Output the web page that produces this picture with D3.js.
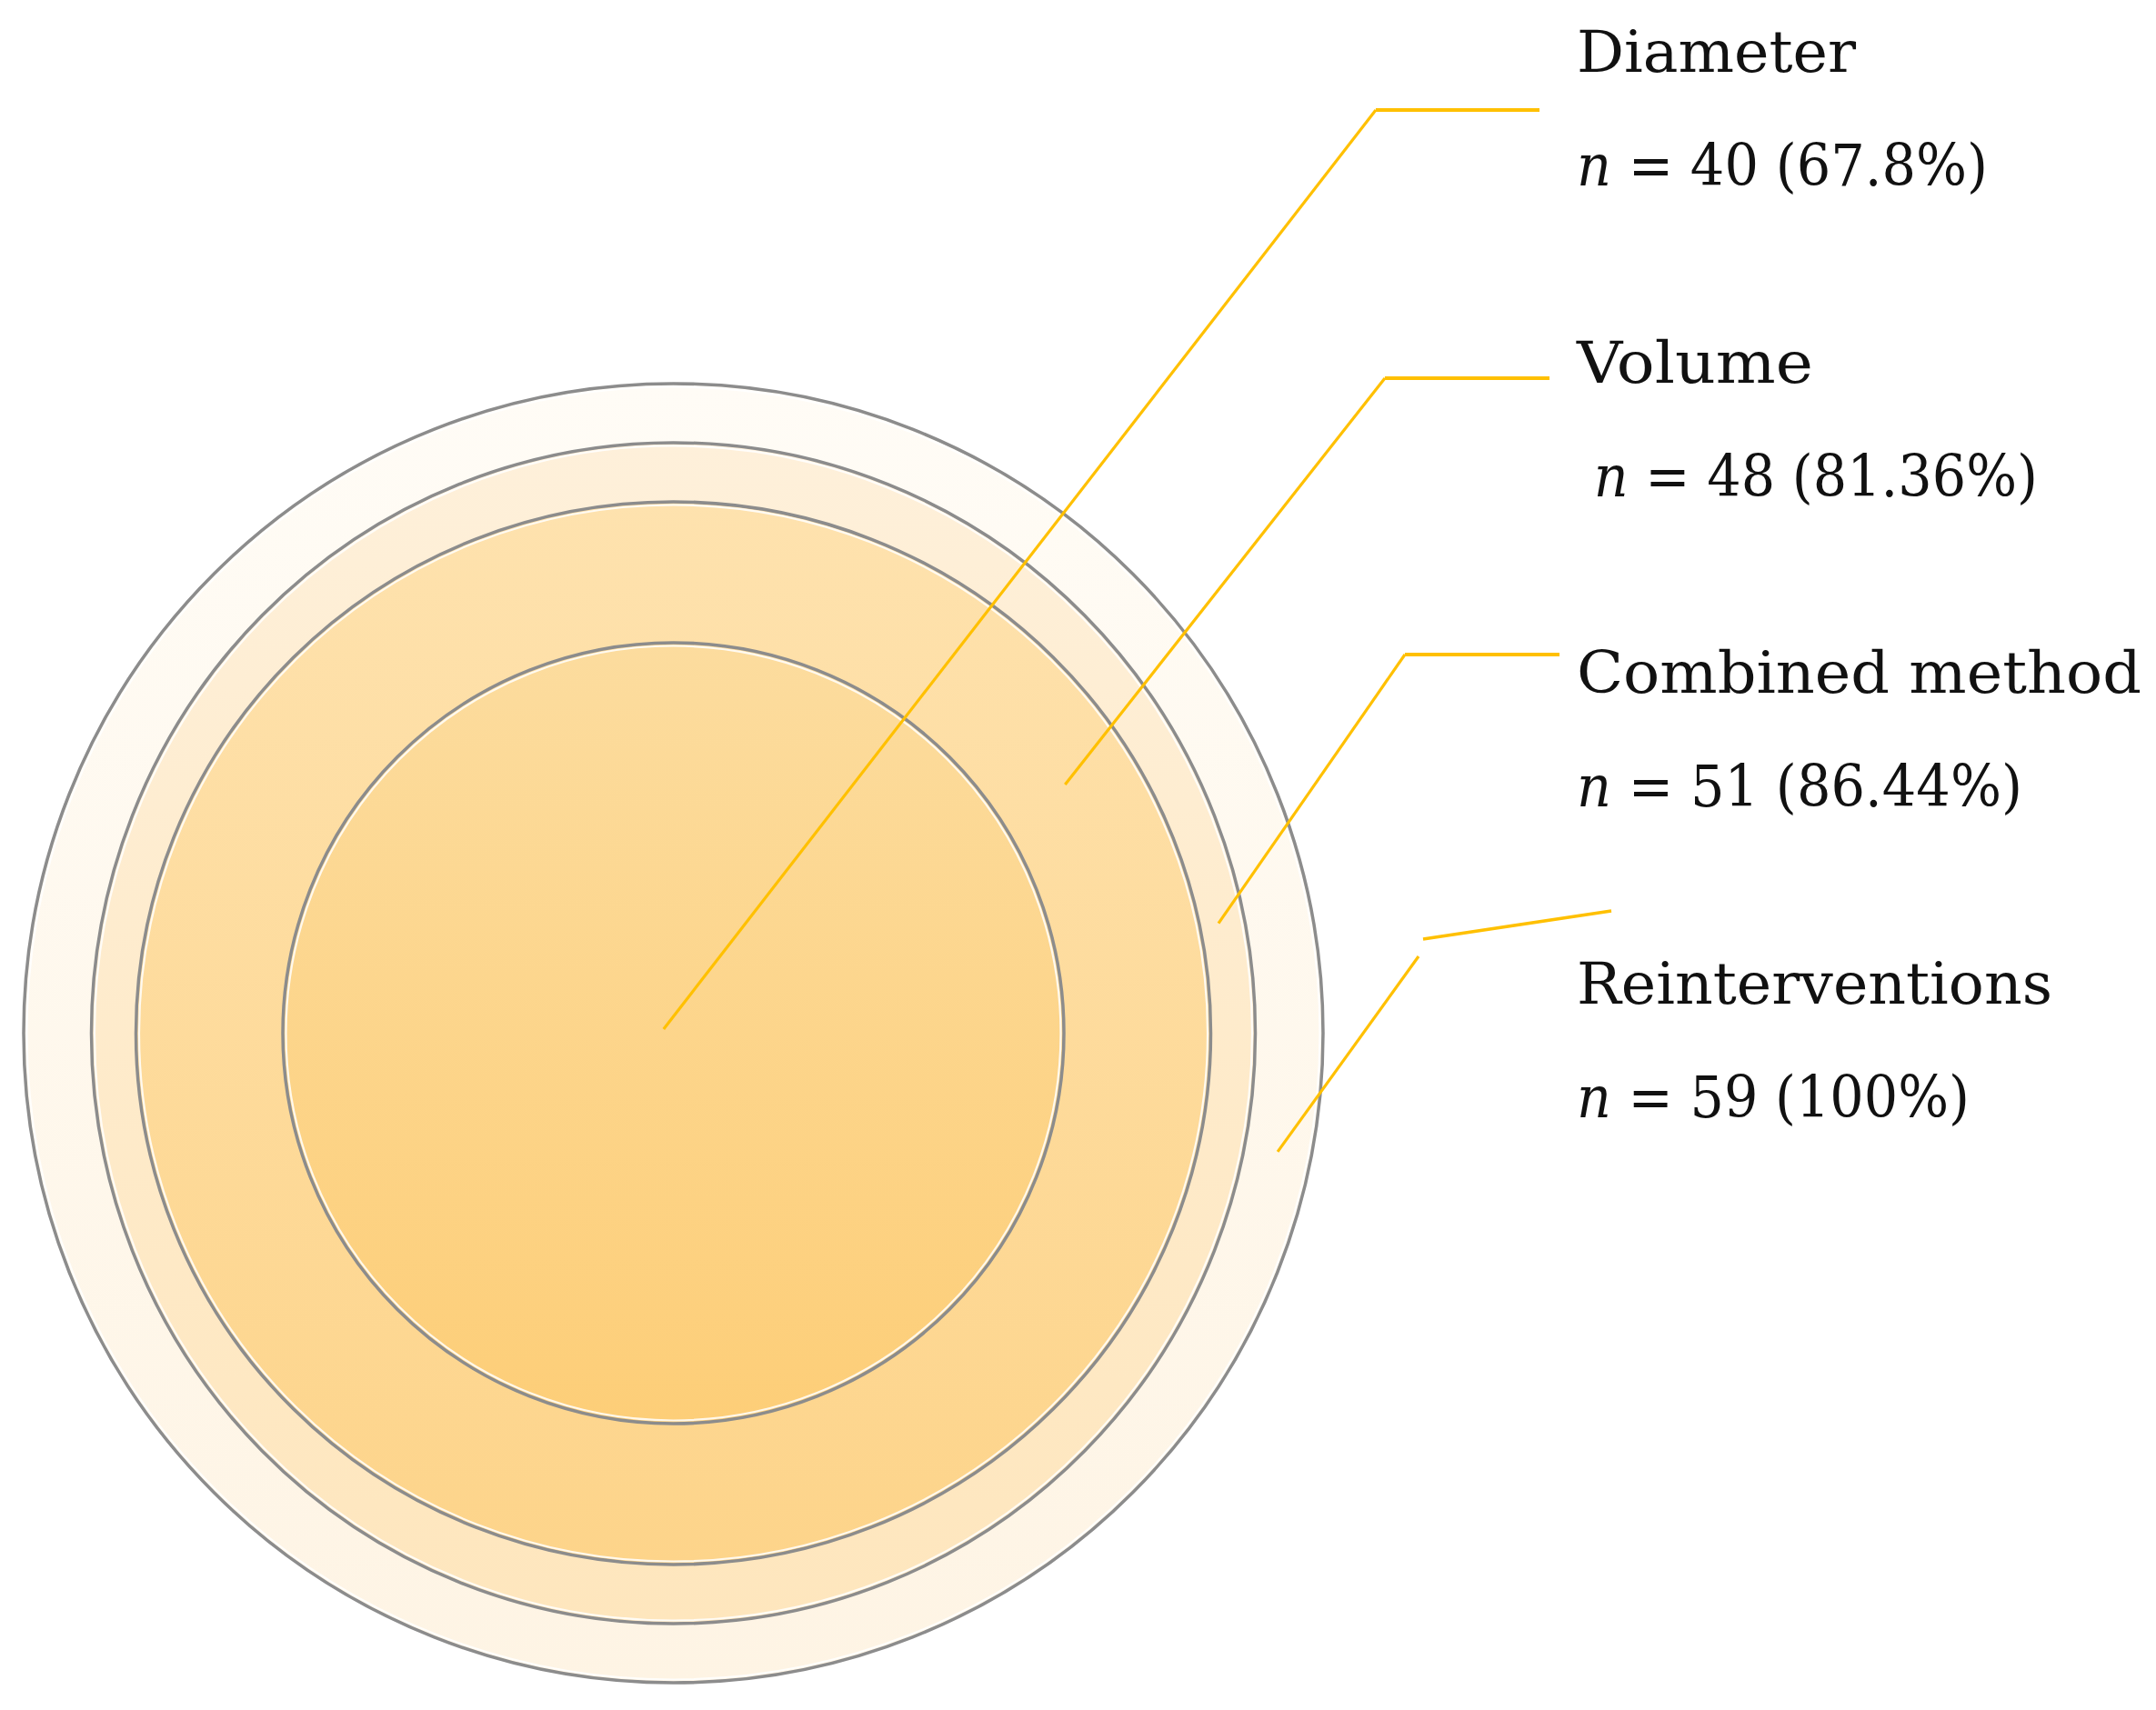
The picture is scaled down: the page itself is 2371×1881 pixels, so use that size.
<!DOCTYPE html>
<html>
<head>
<meta charset="utf-8">
<script src="https://cdn.jsdelivr.net/npm/d3@7"></script>
<style>
  html, body { margin: 0; padding: 0; background: #ffffff; }
  svg { display: block; }
  text { white-space: pre; }
</style>
</head>
<body>
<svg id="chart" width="2371" height="1881"></svg>
<script>
// ---- Data ----
const categories = ["Diameter", "Volume", "Combined method", "Reinterventions"];
const counts = [40, 48, 51, 59];
const percents = ["67.8%", "81.36%", "86.44%", "100%"];
const valuePrefix = ["", "\u00A0", "", ""];

// ---- Layout ----
const W = 2371, H = 1881;
const cx = 740.5, cy = 1136.5;
const svg = d3.select("#chart");

// radius scales (data -> pixels); outer ellipses are very slightly non-circular in the reference
const rxScale = d3.scaleLinear().domain(counts).range([429.5, 591, 640, 714.5]);
const ryScale = d3.scaleLinear().domain(counts).range([429.5, 584.5, 649.5, 714.5]);

// gradient stops per circle (top -> bottom)
const gradTop = ["#FCDC9E", "#FEE2AE", "#FEF0DA", "#FFFCF6"];
const gradBot = ["#FDCE78", "#FDD48A", "#FEE6BD", "#FEF4E4"];

const defs = svg.append("defs");
counts.forEach((c, i) => {
  const g = defs.append("linearGradient")
    .attr("id", "g" + i).attr("x1", 0).attr("y1", 0).attr("x2", 0).attr("y2", 1);
  g.append("stop").attr("offset", "0%").attr("stop-color", gradTop[i]);
  g.append("stop").attr("offset", "100%").attr("stop-color", gradBot[i]);
});

// draw largest first
const order = d3.range(counts.length).reverse();
const circles = svg.append("g");
order.forEach(i => {
  const rx = rxScale(counts[i]), ry = ryScale(counts[i]);
  circles.append("ellipse")
    .attr("cx", cx).attr("cy", cy).attr("rx", rx).attr("ry", ry)
    .attr("fill", `url(#g${i})`)
    .attr("stroke", "#8c8c8c").attr("stroke-width", 3.5);
  circles.append("ellipse")
    .attr("cx", cx).attr("cy", cy).attr("rx", rx - 3.5).attr("ry", ry - 3.5)
    .attr("fill", "none")
    .attr("stroke", "#ffffff").attr("stroke-width", 2.2).attr("stroke-opacity", 0.85);
});

// ---- Leader lines ----
// start points: inside each ring (or near the centre for the innermost) at a given angle
const ringInner = [0, rxScale(counts[0]), rxScale(counts[1]), rxScale(counts[2])];
const startAngle = [-157, -32.4, -11.4, 11.1];
const startFrac = [0.027, 0.5, 0.42, 0.5];
const elbows = [[1513, 121], [1523, 416], [1545, 720], [1560, 1052]];
const ends = [[1693, 121], [1704, 416], [1715, 720], null];
const leaderColor = "#FFC000";
const leaders = svg.append("g");
counts.forEach((c, i) => {
  const r0 = ringInner[i], r1 = rxScale(c);
  const rr = r0 + (r1 - r0) * startFrac[i];
  const a = startAngle[i] * Math.PI / 180;
  const sx = cx + rr * Math.cos(a), sy = cy + rr * Math.sin(a);
  leaders.append("line")
    .attr("x1", sx).attr("y1", sy).attr("x2", elbows[i][0]).attr("y2", elbows[i][1])
    .attr("stroke", leaderColor).attr("stroke-width", 3.2);
  if (ends[i]) {
    leaders.append("line")
      .attr("x1", elbows[i][0]).attr("y1", elbows[i][1]).attr("x2", ends[i][0]).attr("y2", ends[i][1])
      .attr("stroke", leaderColor).attr("stroke-width", 4);
  }
});
// the detached short segment above "Reinterventions"
leaders.append("line")
  .attr("x1", 1565).attr("y1", 1033).attr("x2", 1772).attr("y2", 1002)
  .attr("stroke", leaderColor).attr("stroke-width", 3.6);

// ---- Labels ----
const labelX = 1734;
const yName = d3.scalePoint().domain(categories).range([79, 1104]);
const valueGap = 125;
const nameWidth = [307, 260, 621, 523];
const valueWidth = [452, 507, 490, 432];
const font = "'DejaVu Serif', 'Liberation Serif', serif";
const fs = 64;
const labels = svg.append("g").attr("font-family", font).attr("font-size", fs).attr("fill", "#111");
categories.forEach((cat, i) => {
  labels.append("text").attr("x", labelX).attr("y", yName(cat))
    .attr("textLength", nameWidth[i]).attr("lengthAdjust", "spacingAndGlyphs")
    .text(cat);
  const t = labels.append("text").attr("x", labelX).attr("y", yName(cat) + valueGap)
    .attr("textLength", valueWidth[i]).attr("lengthAdjust", "spacingAndGlyphs");
  if (valuePrefix[i]) t.append("tspan").text(valuePrefix[i]);
  t.append("tspan").attr("font-style", "italic").text("n");
  t.append("tspan").text(` = ${counts[i]} (${percents[i]})`);
});
</script>
</body>
</html>
